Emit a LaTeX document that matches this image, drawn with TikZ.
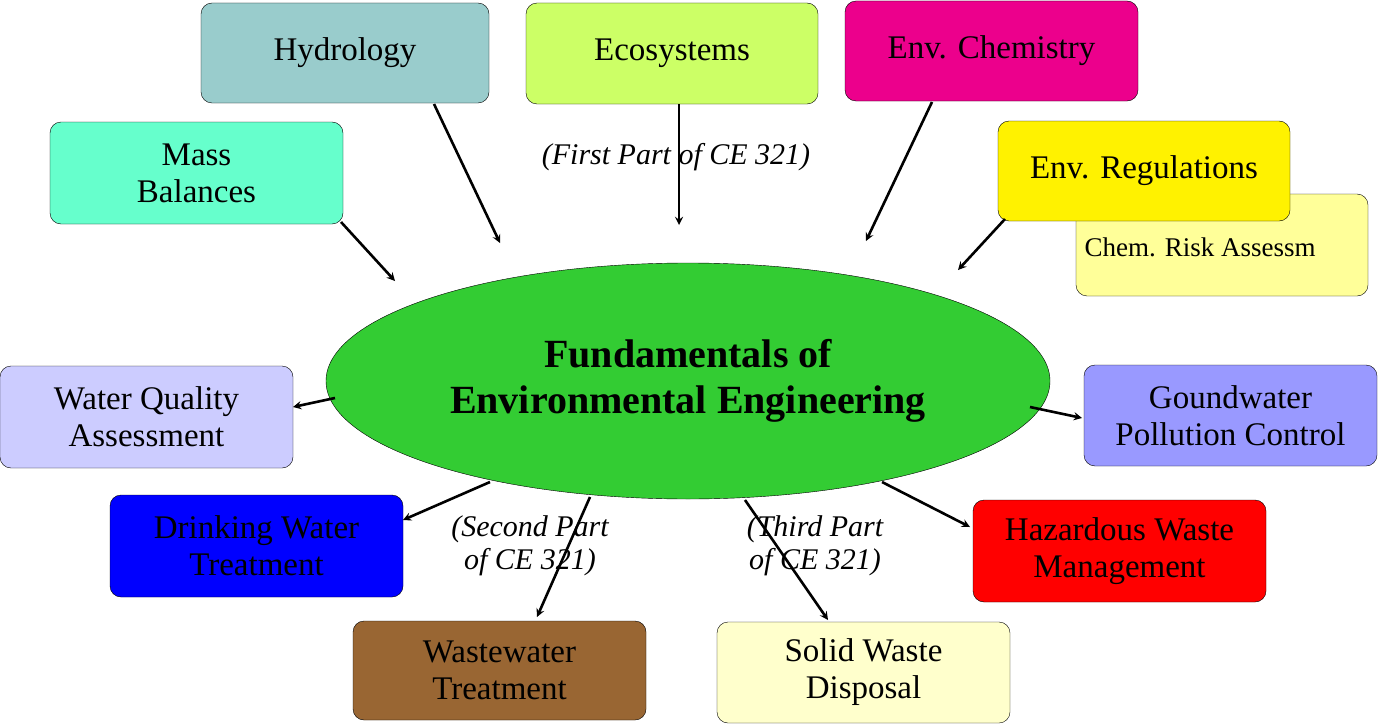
\documentclass[tikz,border=0pt]{standalone}
\usepackage{fontspec}
\setmainfont{Liberation Serif}
\begin{document}
\begin{tikzpicture}[x=1pt,y=-1pt,
 bx/.style={draw=black,rounded corners=11pt,align=center,font=\fontsize{33}{37}\selectfont,inner sep=0pt},
 arr/.style={-stealth,line width=2.6pt,shorten >=0pt},
 lab/.style={font=\itshape\fontsize{30}{33}\selectfont,align=center}]
\useasboundingbox (0,0) rectangle (1379,725);
\def\B#1#2#3#4#5#6#7{\draw[bx,fill=#6] (#2,#3) rectangle (#4,#5); \node[font=\fontsize{33}{37}\selectfont,align=center] (#1) at ({(#2+#4)/2},{(#3+#5)/2}) {#7};}
\definecolor{chr}{HTML}{FFFF99}
\B{risk}{1076}{194}{1368}{296}{chr}{}
\node[font=\fontsize{27}{30}\selectfont,anchor=west] at (1081,247) {Chem. Risk Assessm};
\B{hyd}{201}{3}{489}{103}{{rgb,255:red,153;green,204;blue,204}}{Hydrology}
\B{eco}{526}{3}{818}{104}{{rgb,255:red,204;green,255;blue,102}}{Ecosystems}
\B{chem}{845}{1}{1138}{101}{magenta}{Env. Chemistry}
\B{mass}{50}{122}{343}{224}{{rgb,255:red,102;green,255;blue,204}}{Mass\\Balances}
\B{reg}{998}{121}{1290}{221}{yellow}{Env. Regulations}
\B{wq}{0}{366}{293}{468}{{rgb,255:red,204;green,204;blue,255}}{Water Quality\\Assessment}
\B{gw}{1084}{365}{1377}{466}{{rgb,255:red,153;green,153;blue,255}}{Goundwater\\Pollution Control}
\B{dw}{110}{495}{403}{597}{blue}{Drinking Water\\Treatment}
\B{hz}{973}{500}{1266}{602}{red}{Hazardous Waste\\Management}
\B{ww}{353}{621}{646}{720}{{rgb,255:red,153;green,102;blue,51}}{Wastewater\\Treatment}
\B{sw}{717}{622}{1010}{723}{{rgb,255:red,255;green,255;blue,204}}{Solid Waste\\Disposal}
\draw[fill={rgb,255:red,51;green,204;blue,51}] (688,381) ellipse [x radius=362,y radius=118];
\node[font=\bfseries\fontsize{40}{46}\selectfont,align=center] (ell) at (688,381) {Fundamentals of\\Environmental Engineering};
\node[lab] at (676,157) {(First Part of CE 321)};
\node[lab] at (530,546) {(Second Part\\of CE 321)};
\node[lab] at (815,546) {(Third Part\\of CE 321)};
\foreach \n/\a/\b/\c/\d in {h/434/104/500/243, e/679/104/679/225, c/932/102/866/241, m/341/222/395/281, r/1005/219/958/270, wq/335/398/293/407, gw/1030/407/1082/418, dw/490/482/403/520, hz/882/482/970/527, ww/590/497/537/617, sw/745/500/828/620}{
 \coordinate (s\n) at (\a,\b); \coordinate (t\n) at (\c,\d);
 \draw[arr] (s\n) -- (t\n);}
\end{tikzpicture}
\end{document}
